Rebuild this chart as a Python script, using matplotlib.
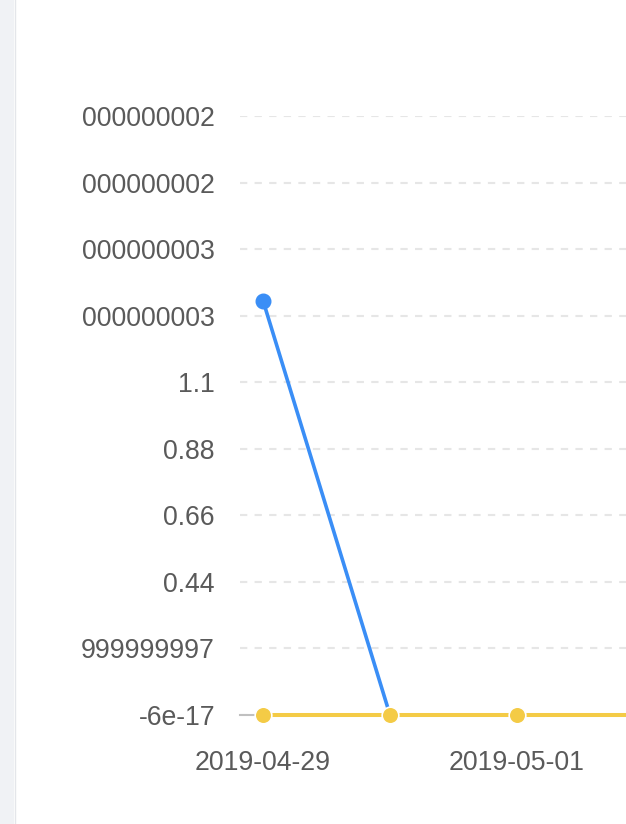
import matplotlib.pyplot as plt
from matplotlib.patches import Rectangle
from matplotlib.lines import Line2D

plt.rcParams['font.family'] = ['Liberation Sans', 'DejaVu Sans']

# data
dates = ['2019-04-29', '2019-04-30', '2019-05-01', '2019-05-02']
shown_dates = ['2019-04-29', '', '2019-05-01', '']
blue_vals = [1.37, 0, 0, 0]
yellow_vals = [0, 0, 0, 0]
ytick_vals = [0, 0.22, 0.44, 0.66, 0.88, 1.1, 1.32, 1.54, 1.76, 1.98]
ytick_labels = ['-6e-17', '999999997', '0.44', '0.66', '0.88', '1.1',
                '000000003', '000000003', '000000002', '000000002']

W, H = 626, 824
fig = plt.figure(figsize=(W / 100, H / 100), dpi=100)

# left grey strip
fig.patches.append(Rectangle((0, 0), 14 / W, 1, transform=fig.transFigure,
                             facecolor='#f0f2f5', edgecolor='none', zorder=0))
fig.add_artist(Line2D([14.5 / W, 14.5 / W], [0, 1], transform=fig.transFigure,
                      color='#e4e6ea', linewidth=1))

ax = fig.add_axes([240 / W, 109 / H, (W - 240) / W, 599 / H])

x = list(range(len(dates)))
ax.plot(x, blue_vals, color='#3a8ef6', linewidth=2.6, marker='o',
        markersize=10.5, markeredgecolor='#3a8ef6', zorder=3, clip_on=False)
ax.plot(x, yellow_vals, color='#f4cb46', linewidth=2.9, marker='o',
        markersize=12, markeredgecolor='white', markeredgewidth=1.2, zorder=4,
        clip_on=False)

ax.set_yticks(ytick_vals)
ax.set_yticklabels(ytick_labels)
ax.set_xticks(x)
ax.set_xticklabels(shown_dates)

ax.set_xlim(-23 / 127, (W - 263) / 127)
ax.set_ylim(0, 1.98)

ax.tick_params(axis='y', length=0, pad=18, labelsize=19.2, labelcolor='#5a5a5a')
ax.tick_params(axis='x', length=0, pad=25, labelsize=19.2, labelcolor='#5a5a5a')

ax.grid(axis='y', color='#e6e6e6', linewidth=1.5, linestyle=(0, (3.5, 3.5)))
ax.set_axisbelow(True)

for s in ['top', 'right', 'left']:
    ax.spines[s].set_visible(False)
ax.spines['bottom'].set_color('#c0c0c0')
ax.spines['bottom'].set_linewidth(1.5)
ax.spines['bottom'].set_zorder(2.5)

fig.savefig('out.png', dpi=100)
